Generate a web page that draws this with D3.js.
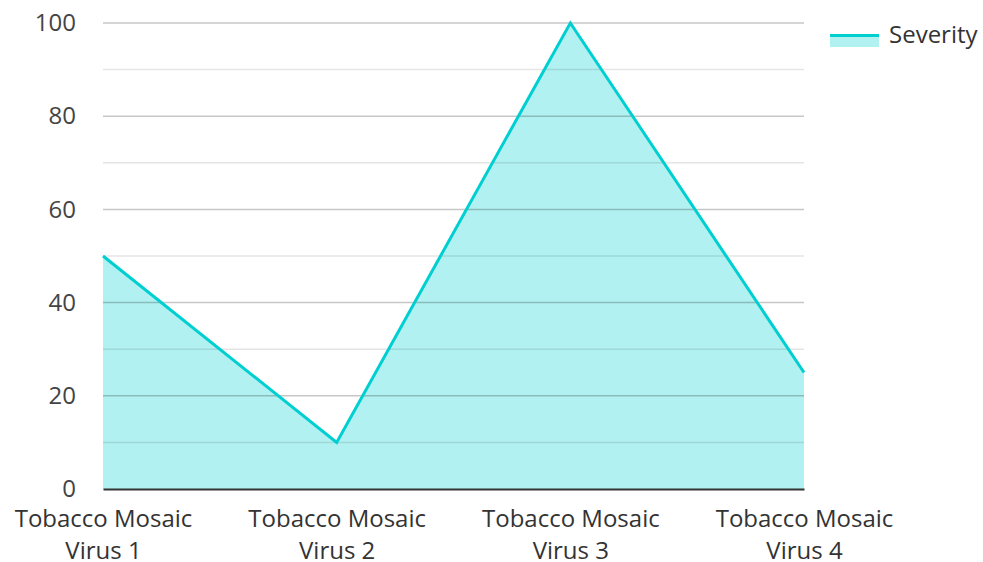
<!DOCTYPE html>
<html><head><meta charset="utf-8">
<script src="https://cdn.jsdelivr.net/npm/d3@7"></script>
<style>body{margin:0;background:#fff}svg{display:block;font-family:"Open Sans","Noto Sans",sans-serif}</style>
</head><body><svg id="c" width="983" height="562"></svg>
<script>
const categories = ["Tobacco Mosaic Virus 1","Tobacco Mosaic Virus 2","Tobacco Mosaic Virus 3","Tobacco Mosaic Virus 4"];
const severity = [50, 10, 100, 25];
const yTicks = [0, 20, 40, 60, 80, 100];
const seriesName = "Severity";

const svg = d3.select("#c");
const mLeft = 103, mRight = 804, mTop = 23, mBottom = 489;
const color = "#00cfd1";
const fs = 24;
const x = d3.scalePoint().domain(categories).range([mLeft, mRight]).padding(0);
const y = d3.scaleLinear().domain([0, 100]).range([mBottom, mTop]);

const data = categories.map((c, i) => ({c, v: severity[i]}));

// area
svg.append("path").datum(data)
  .attr("fill", color).attr("fill-opacity", 0.3)
  .attr("d", d3.area().x(d => x(d.c)).y0(y(0)).y1(d => y(d.v)));

// grid
const minor = d3.range(10, 101, 20);
svg.append("g").selectAll("line").data(minor).join("line")
  .attr("x1", mLeft).attr("x2", mRight).attr("y1", d => y(d)).attr("y2", d => y(d))
  .attr("stroke", "#000").attr("stroke-opacity", 0.1).attr("stroke-width", 1.5);
svg.append("g").selectAll("line").data(yTicks.filter(d => d > 0)).join("line")
  .attr("x1", mLeft).attr("x2", mRight).attr("y1", d => y(d)).attr("y2", d => y(d))
  .attr("stroke", "#000").attr("stroke-opacity", 0.22).attr("stroke-width", 1.5);

// y axis labels
const ya = svg.append("g").attr("transform", `translate(${mLeft},0)`)
  .call(d3.axisLeft(y).tickValues(yTicks).tickSize(0).tickPadding(27));
ya.select(".domain").remove();
ya.selectAll("text").attr("font-size", fs).attr("fill", "#444").attr("font-family", "Open Sans");

// line
svg.append("path").datum(data)
  .attr("fill", "none").attr("stroke", color).attr("stroke-width", 3)
  .attr("d", d3.line().x(d => x(d.c)).y(d => y(d.v)));

// x axis
const xa = svg.append("g").attr("transform", `translate(0,${mBottom})`)
  .call(d3.axisBottom(x).tickSize(0).tickFormat(""));
xa.select(".domain").attr("stroke", "#333").attr("stroke-width", 2);
xa.selectAll(".tick").each(function(d) {
  const words = d.split(" ");
  const l1 = words.slice(0, 2).join(" "), l2 = words.slice(2).join(" ");
  const t = d3.select(this).append("text").attr("fill", "#333").attr("font-size", fs)
    .attr("text-anchor", "middle").attr("font-family", "Open Sans");
  t.append("tspan").attr("x", 0).attr("y", 38).text(l1);
  t.append("tspan").attr("x", 0).attr("y", 70).text(l2);
});

// legend
const lg = svg.append("g").attr("transform", "translate(830,0)");
lg.append("rect").attr("x", 0).attr("y", 34).attr("width", 49).attr("height", 13)
  .attr("fill", color).attr("fill-opacity", 0.3);
lg.append("line").attr("x1", 0).attr("x2", 49).attr("y1", 35.5).attr("y2", 35.5)
  .attr("stroke", color).attr("stroke-width", 3);
lg.append("text").attr("x", 59).attr("y", 43).attr("font-size", fs).attr("fill", "#333")
  .attr("font-family", "Open Sans").text(seriesName);
</script></body></html>
